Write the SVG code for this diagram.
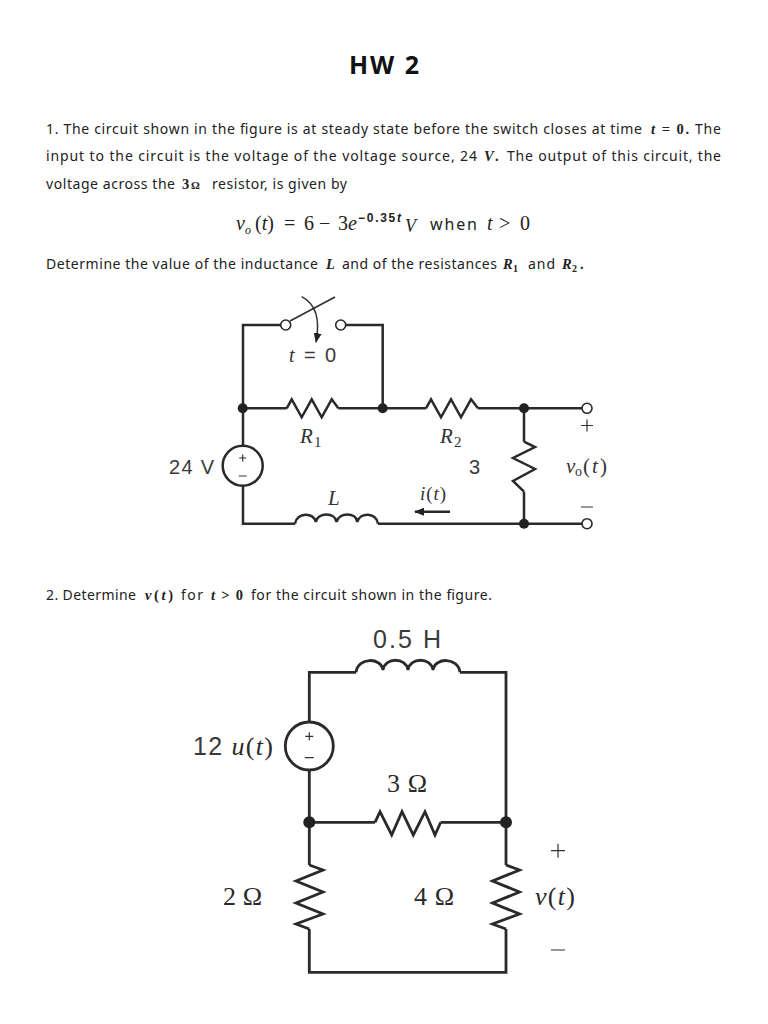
<svg xmlns="http://www.w3.org/2000/svg" width="768" height="1024" viewBox="0 0 768 1024">
<style>
.t{font-family:"Noto Sans","Open Sans",sans-serif;font-size:14px;fill:#222}
.m{font-family:"Liberation Serif",serif;font-size:14.5px;font-weight:bold;fill:#222}
.e{font-family:"Liberation Serif",serif;font-size:20px;fill:#222}
.c{font-family:"Liberation Sans",sans-serif;font-size:20px;fill:#3a3a3a}
.s{font-family:"Liberation Serif",serif;font-size:21px;fill:#333}
.b{font-family:"Liberation Sans",sans-serif;font-size:25px;fill:#3a3a3a}
.f{font-family:"Liberation Serif",serif;font-size:26px;fill:#2a2a2a}
.w{fill:none;stroke:#2a2a2a;stroke-width:2.5}
.x{fill:none;stroke:#2a2a2a;stroke-width:2.8}
.o{fill:#fff;stroke:#2a2a2a;stroke-width:1.6}
.n{fill:none;stroke:#333;stroke-width:1.2}
.d{fill:#222}
.i{font-style:italic}
</style>
<defs>
<marker id="a" markerWidth="10" markerHeight="8" refX="9" refY="4" orient="auto" markerUnits="userSpaceOnUse"><path d="M0 0L10 4L0 8Z" fill="#222"/></marker>
</defs>
<rect width="768" height="1024" fill="#fff"/>
<g id="text">
<text x="349" y="74" font-family="Noto Sans,sans-serif" font-size="25" font-weight="700" fill="#111" textLength="70">HW 2</text>
<text class="t" x="46" y="134" textLength="596">1. The circuit shown in the figure is at steady state before the switch closes at time</text>
<text class="m" x="651" y="134" textLength="38"><tspan class="i">t</tspan> = 0.</text>
<text class="t" x="695" y="134" textLength="26">The</text>
<text class="t" x="46" y="161" textLength="431">input to the circuit is the voltage of the voltage source, 24</text>
<text class="m i" x="484" y="161">V</text><text class="m" x="495" y="161">.</text>
<text class="t" x="507" y="161" textLength="214">The output of this circuit, the</text>
<text class="t" x="46" y="189" textLength="129">voltage across the</text>
<text class="m" x="182" y="189">3</text><text class="m" x="191" y="189" style="font-size:11px">Ω</text>
<text class="t" x="212" y="189" textLength="135">resistor, is given by</text>
<text class="e i" x="236" y="230">v</text><text class="e i" x="245" y="234" style="font-size:12px">o</text>
<text class="e" x="255" y="230">(<tspan class="i">t</tspan>)</text>
<text class="e" x="284" y="230">=</text><text class="e" x="304" y="230">6</text><text class="e" x="319" y="230">−</text><text class="e" x="338" y="230">3<tspan class="i">e</tspan></text>
<text x="358" y="222" font-family="Liberation Sans,sans-serif" font-size="12" font-weight="700" fill="#222" textLength="43">−0.35<tspan class="i">t</tspan></text>
<text class="e i" x="405" y="232" style="font-size:18px">V</text>
<text class="t" x="430" y="230" style="font-size:16px" textLength="47">when</text>
<text class="e i" x="487" y="230">t</text><text class="e" x="499" y="230">&gt;</text><text class="e" x="520" y="230">0</text>
<text class="t" x="46" y="269" textLength="272">Determine the value of the inductance</text>
<text class="m i" x="326" y="269">L</text>
<text class="t" x="342" y="269" textLength="155">and of the resistances</text>
<text class="m i" x="503" y="269">R</text><text class="m" x="513" y="272" style="font-size:10px">1</text>
<text class="t" x="528" y="269" textLength="27">and</text>
<text class="m i" x="562" y="269">R</text><text class="m" x="572" y="272" style="font-size:10px">2</text>
<text class="m" x="580" y="269">.</text>
<text class="t" x="46" y="600" textLength="90">2. Determine</text>
<text class="m" x="145" y="600" textLength="28"><tspan class="i">v</tspan>(<tspan class="i">t</tspan>)</text>
<text class="t" x="181" y="600" textLength="22">for</text>
<text class="m" x="211" y="600" textLength="32"><tspan class="i">t</tspan> &gt; 0</text>
<text class="t" x="251" y="600" textLength="241">for the circuit shown in the figure.</text>
</g>
<g id="connectors">
<path class="w" d="M285 325H243V523.7H295M378 523.7H587M346 325H382.7V408.3M243 408.3H286.7M338.3 408.3H426M478 408.3H582M524 408.3V441.7M524 491.7V523.7"/>
<path class="x" d="M356 672.3H309.3V865M309.3 929V972.3H506V929M506 865V672.3H460M309.3 822.3H375M440.7 822.3H506"/>
</g>
<g id="switch">
<path class="n" style="stroke-width:1.8" d="M290 321L335 297"/>
<path class="n" style="stroke-width:1.5" d="M301.7 296.7C314 303 321 316 316 342" marker-end="url(#a)"/>
<circle class="o" cx="285.7" cy="325" r="5"/>
<circle class="o" cx="340.7" cy="325" r="5"/>
<text class="c" x="289" y="362" textLength="47"><tspan class="s i" style="font-size:20px">t</tspan> = 0</text>
</g>
<g id="R1">
<path class="w" d="M286.7 408.3L291.7 399.3L301.7 417.3L311.7 399.3L321.7 417.3L331.7 399.3L338.3 408.3"/>
<text class="s i" x="300" y="443">R</text><text class="s" x="314" y="447" style="font-size:15px">1</text>
</g>
<g id="R2">
<path class="w" d="M426 408.3L431 399.3L441 417.3L451 399.3L461 417.3L471 399.3L478 408.3"/>
<text class="s i" x="440" y="443">R</text><text class="s" x="454" y="447" style="font-size:15px">2</text>
</g>
<g id="R3">
<path class="w" d="M524 441.7L535 447L513 458L535 469L513 481L524 491.7"/>
<text class="c" x="469" y="474">3</text>
</g>
<g id="L">
<path class="w" d="M295 523.7C297 512 314 512 315.7 522C318 512 335 512 336.5 522C339 512 356 512 357.3 522C360 512 376 512 378 523.7"/>
<text class="s i" x="328" y="505">L</text>
</g>
<g id="V24">
<circle cx="242.7" cy="465.7" r="20" fill="#fff" stroke="#2a2a2a" stroke-width="2.5"/>
<path class="n" d="M239.2 458H246.2M242.7 454.5V461.5M238.7 476H246.7"/>
<text class="c" x="169" y="474" textLength="45">24 V</text>
</g>
<g id="iLabel">
<text class="s" x="420" y="500" style="font-size:19px" textLength="26"><tspan class="i">i</tspan>(<tspan class="i">t</tspan>)</text>
<path d="M450 511.7H415" class="w" marker-end="url(#a)"/>
</g>
<g id="nodes1">
<circle class="d" cx="242.7" cy="408.3" r="5"/>
<circle class="d" cx="382.7" cy="408.3" r="5"/>
<circle class="d" cx="524" cy="408.3" r="5"/>
<circle class="d" cx="524" cy="523.7" r="5"/>
<circle class="o" cx="587" cy="408.3" r="5"/>
<circle class="o" cx="587" cy="523.7" r="5"/>
</g>
<g id="vo">
<path class="n" d="M581 425.5H593M587 419.5V431.5M581 507H593"/>
<text class="s i" x="566" y="473">v</text><text class="s" x="575" y="476" style="font-size:14px">o</text><text class="s" x="583" y="473" textLength="24">(<tspan class="i">t</tspan>)</text>
</g>
<g id="L2">
<path class="x" d="M356 672.3C358 657 381 657 383 670C385 657 406 657 408 670C410 657 431 657 433 670C435 657 458 657 460 672.3"/>
<text class="b" x="373" y="648" textLength="68">0.5 H</text>
</g>
<g id="V12">
<circle cx="309.3" cy="746" r="24" fill="#fff" stroke="#2a2a2a" stroke-width="2.8"/>
<path class="n" d="M305.3 736.3H313.3M309.3 732.3V740.3M304.8 757.7H313.8"/>
<text class="b" x="193" y="755" textLength="80">12 <tspan class="f i">u</tspan><tspan class="f">(</tspan><tspan class="f i">t</tspan><tspan class="f">)</tspan></text>
</g>
<g id="R3b">
<path class="x" d="M375 822.3L380 811.7L391.7 835L402 811.7L413.3 835L425 811.7L435 835L440.7 822.3"/>
<text class="f" x="387" y="792" textLength="40">3 Ω</text>
</g>
<g id="R2b">
<path class="x" d="M309.3 865L323 870L296 881L323 892L296 903L323 914L296 924L309.3 929"/>
<text class="f" x="223" y="905" textLength="39">2 Ω</text>
</g>
<g id="R4">
<path class="x" d="M506 865L519.5 870L492.5 881L519.5 892L492.5 903L519.5 914L492.5 924L506 929"/>
<text class="f" x="414" y="905" textLength="40">4 Ω</text>
</g>
<g id="nodes2">
<circle class="d" cx="309.3" cy="822.3" r="6"/>
<circle class="d" cx="506" cy="822.3" r="6"/>
</g>
<g id="v">
<path class="n" d="M551 850.7H565M558 843.7V857.7M551 950H565"/>
<text class="f" x="535" y="905" textLength="40"><tspan class="i">v</tspan>(<tspan class="i">t</tspan>)</text>
</g>
</svg>
